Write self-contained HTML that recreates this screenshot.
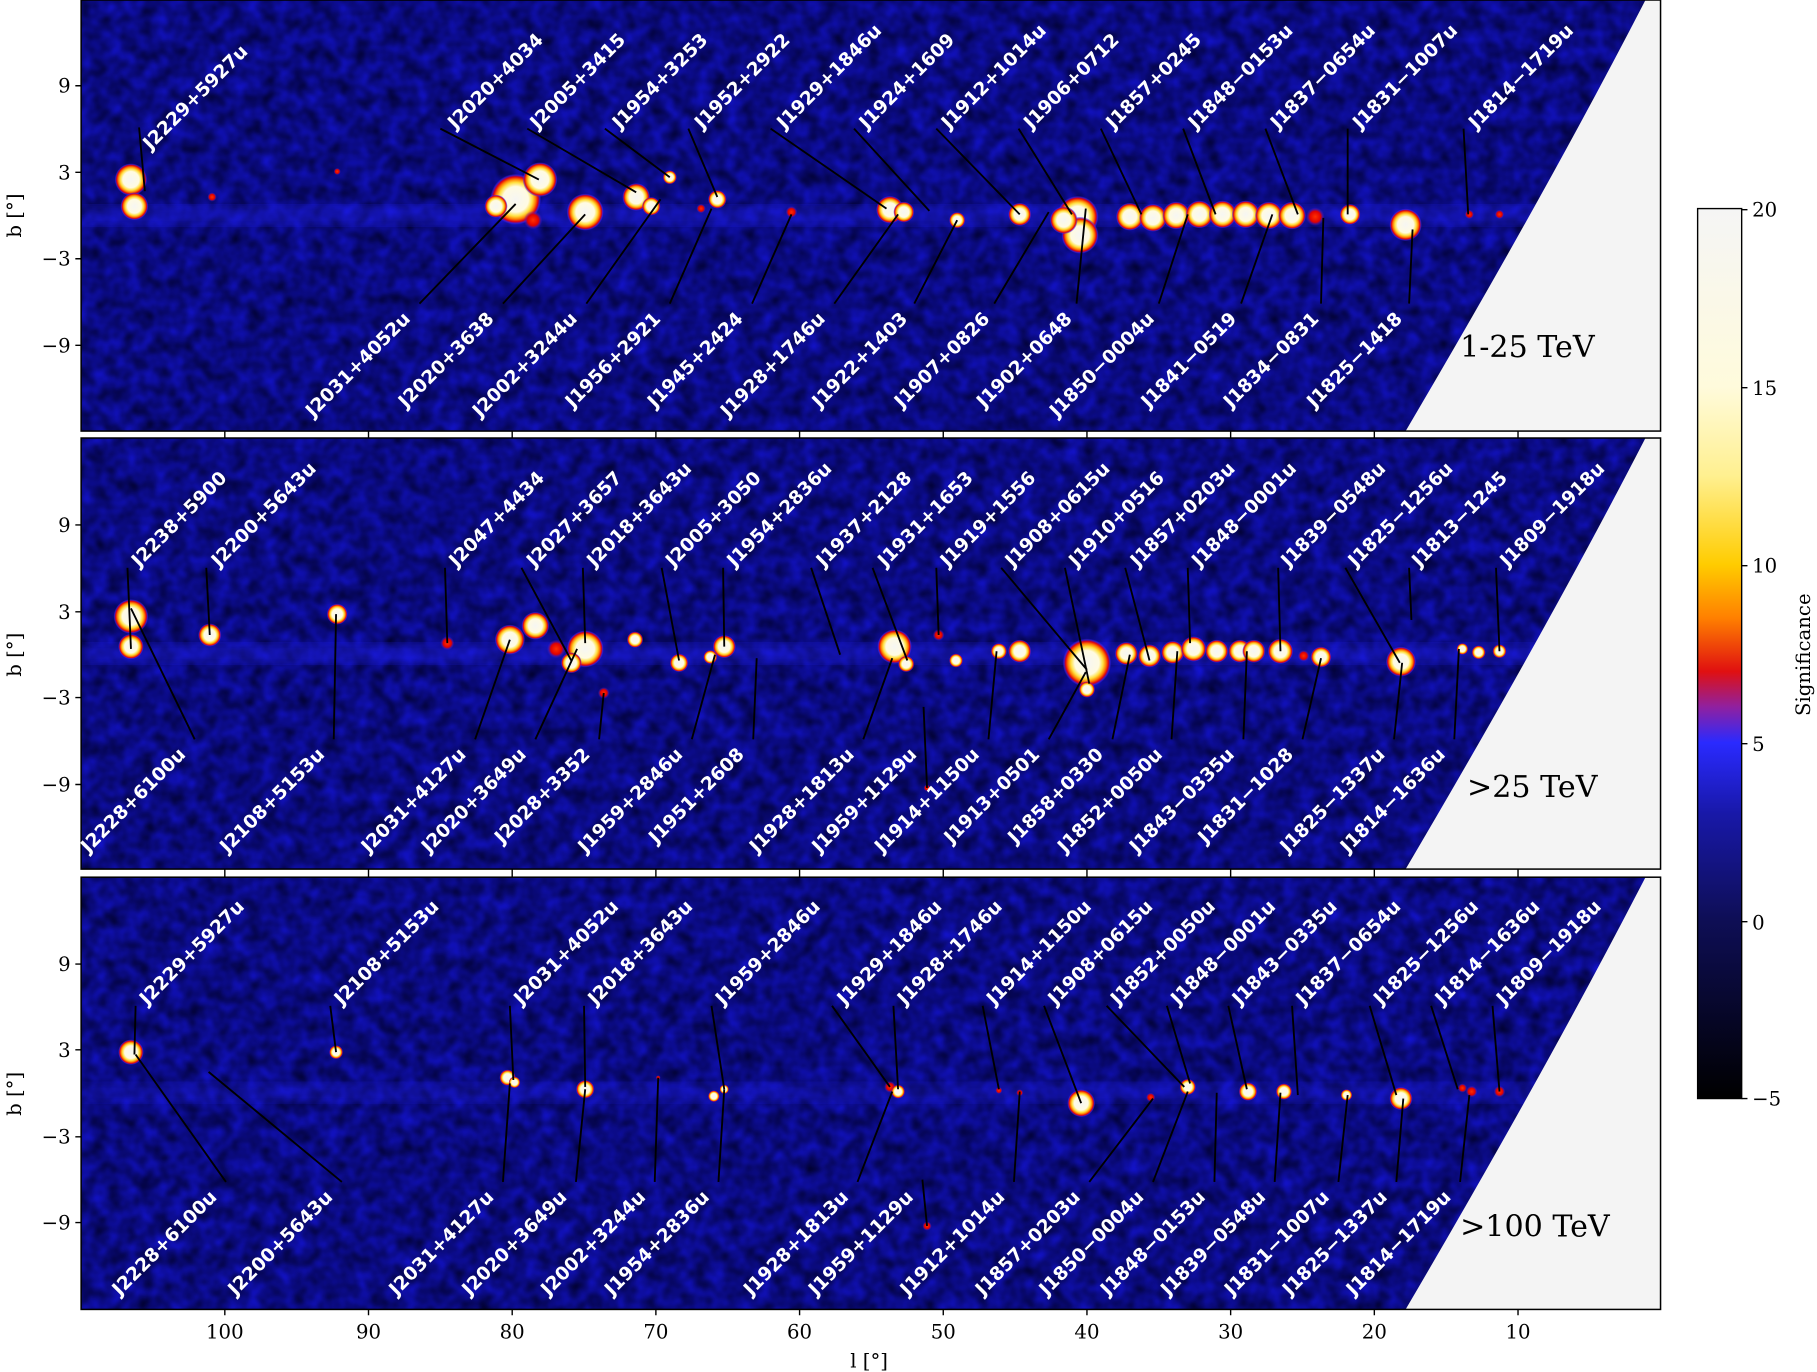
<!DOCTYPE html>
<html><head><meta charset="utf-8"><style>
html,body{margin:0;padding:0;background:#fff}
svg{display:block}
.lb{font-family:"DejaVu Sans","Liberation Sans",sans-serif;font-weight:bold;font-size:16px;fill:#fff}
.tk{font-family:"DejaVu Serif","Liberation Serif",serif;font-size:17px;fill:#000}
.ln{stroke:#000;stroke-width:1.6;fill:none}
.en{font-family:"DejaVu Serif","Liberation Serif",serif;font-size:26px;fill:#000}
</style></head><body>
<svg width="1817" height="1372" viewBox="0 0 1568 1184" xmlns="http://www.w3.org/2000/svg">
<defs>
<filter id="nz" x="0" y="0" width="100%" height="100%" filterUnits="objectBoundingBox" color-interpolation-filters="sRGB">
<feTurbulence type="fractalNoise" baseFrequency="0.075" numOctaves="2" seed="7"/>
<feColorMatrix type="matrix" values="0.08 0 0 0 0.0  0.08 0 0 0 0.0  0.7 0 0 0 0.15  0 0 0 0 1"/>
</filter>
<filter id="bl"><feGaussianBlur stdDeviation="6"/></filter>
<radialGradient id="hot">
<stop offset="0" stop-color="#f6f6f3"/><stop offset="0.5" stop-color="#fffbe2"/>
<stop offset="0.66" stop-color="#ffe040"/><stop offset="0.78" stop-color="#ff8000"/>
<stop offset="0.88" stop-color="#e00010"/><stop offset="0.95" stop-color="#5020e0" stop-opacity="0.6"/>
<stop offset="1" stop-color="#2020ff" stop-opacity="0"/>
</radialGradient>
<radialGradient id="red">
<stop offset="0" stop-color="#ff3000"/><stop offset="0.6" stop-color="#e00000"/>
<stop offset="1" stop-color="#3020ff" stop-opacity="0"/>
</radialGradient>
<linearGradient id="cb" x1="0" y1="1" x2="0" y2="0">
<stop offset="0" stop-color="#000"/><stop offset="0.2" stop-color="#0e0e55"/>
<stop offset="0.32" stop-color="#1818a8"/><stop offset="0.4" stop-color="#2a2aff"/>
<stop offset="0.44" stop-color="#9020a0"/><stop offset="0.48" stop-color="#e01010"/>
<stop offset="0.54" stop-color="#ff8000"/><stop offset="0.6" stop-color="#ffcc00"/>
<stop offset="0.7" stop-color="#fff090"/><stop offset="0.8" stop-color="#fffbdc"/>
<stop offset="1" stop-color="#f5f5f5"/>
</linearGradient>
<clipPath id="c1"><rect x="70" y="0" width="1363" height="372"/></clipPath>
<clipPath id="c2"><rect x="70" y="378" width="1363" height="372"/></clipPath>
<clipPath id="c3"><rect x="70" y="757" width="1363" height="373"/></clipPath>
</defs>

<!-- PANEL 1 -->
<g clip-path="url(#c1)">
<rect x="70" y="0" width="1363" height="372" filter="url(#nz)"/>
<rect x="70" y="178" width="1363" height="16" fill="#2828ff" opacity="0.4" filter="url(#bl)"/>
<g>
<circle cx="113" cy="155" r="14" fill="url(#hot)"/><circle cx="116" cy="178" r="12" fill="url(#hot)"/>
<circle cx="183" cy="170" r="4" fill="url(#red)"/><circle cx="291" cy="148" r="3" fill="url(#red)"/>
<circle cx="445" cy="172" r="22" fill="url(#hot)"/><circle cx="466" cy="155" r="15" fill="url(#hot)"/>
<circle cx="428" cy="178" r="10" fill="url(#hot)"/><circle cx="460" cy="190" r="8" fill="url(#red)"/>
<circle cx="505" cy="183" r="16" fill="url(#hot)"/><circle cx="549" cy="170" r="12" fill="url(#hot)"/>
<circle cx="562" cy="178" r="8" fill="url(#hot)"/><circle cx="578" cy="153" r="6" fill="url(#hot)"/>
<circle cx="619" cy="172" r="8" fill="url(#hot)"/><circle cx="605" cy="180" r="4" fill="url(#red)"/>
<circle cx="683" cy="183" r="5" fill="url(#red)"/>
<circle cx="768" cy="181" r="12" fill="url(#hot)"/><circle cx="780" cy="183" r="9" fill="url(#hot)"/>
<circle cx="826" cy="190" r="7" fill="url(#hot)"/><circle cx="880" cy="185" r="10" fill="url(#hot)"/>
<circle cx="930" cy="187" r="18" fill="url(#hot)"/><circle cx="932" cy="203" r="16" fill="url(#hot)"/>
<circle cx="918" cy="190" r="12" fill="url(#hot)"/>
<circle cx="975" cy="187" r="12" fill="url(#hot)"/><circle cx="995" cy="188" r="12" fill="url(#hot)"/>
<circle cx="1015" cy="186" r="12" fill="url(#hot)"/><circle cx="1035" cy="185" r="12" fill="url(#hot)"/>
<circle cx="1055" cy="185" r="12" fill="url(#hot)"/><circle cx="1075" cy="185" r="12" fill="url(#hot)"/>
<circle cx="1095" cy="186" r="12" fill="url(#hot)"/><circle cx="1115" cy="186" r="12" fill="url(#hot)"/>
<circle cx="1135" cy="187" r="8" fill="url(#red)"/>
<circle cx="1165" cy="185" r="9" fill="url(#hot)"/><circle cx="1213" cy="194" r="14" fill="url(#hot)"/>
<circle cx="1268" cy="185" r="4" fill="url(#red)"/><circle cx="1294" cy="185" r="4" fill="url(#red)"/>
</g>
<path d="M1420,0 Q1335,165 1213,372 L1433,372 L1433,0 Z" fill="#f4f4f4"/>
</g>
<rect x="70" y="0" width="1363" height="372" fill="none" stroke="#000" stroke-width="1.3"/>

<!-- PANEL 2 -->
<g clip-path="url(#c2)">
<rect x="70" y="378" width="1363" height="372" filter="url(#nz)"/>
<rect x="70" y="556" width="1363" height="16" fill="#2828ff" opacity="0.4" filter="url(#bl)"/>
<circle cx="113" cy="532" r="15" fill="url(#hot)"/><circle cx="113" cy="558" r="11" fill="url(#hot)"/>
<circle cx="181" cy="548" r="10" fill="url(#hot)"/><circle cx="291" cy="530" r="9" fill="url(#hot)"/>
<circle cx="386" cy="555" r="6" fill="url(#red)"/>
<circle cx="440" cy="552" r="13" fill="url(#hot)"/><circle cx="462" cy="540" r="12" fill="url(#hot)"/>
<circle cx="480" cy="560" r="8" fill="url(#red)"/>
<circle cx="505" cy="560" r="16" fill="url(#hot)"/><circle cx="493" cy="572" r="9" fill="url(#hot)"/>
<circle cx="521" cy="598" r="5" fill="url(#red)"/>
<circle cx="548" cy="552" r="7" fill="url(#hot)"/><circle cx="586" cy="572" r="8" fill="url(#hot)"/>
<circle cx="625" cy="558" r="10" fill="url(#hot)"/><circle cx="613" cy="567" r="6" fill="url(#hot)"/>
<circle cx="772" cy="558" r="15" fill="url(#hot)"/><circle cx="782" cy="573" r="7" fill="url(#hot)"/>
<circle cx="825" cy="570" r="6" fill="url(#hot)"/><circle cx="810" cy="548" r="5" fill="url(#red)"/>
<circle cx="862" cy="562" r="7" fill="url(#hot)"/><circle cx="880" cy="562" r="10" fill="url(#hot)"/>
<circle cx="938" cy="572" r="21" fill="url(#hot)"/><circle cx="938" cy="595" r="7" fill="url(#hot)"/>
<circle cx="972" cy="564" r="10" fill="url(#hot)"/><circle cx="992" cy="566" r="10" fill="url(#hot)"/>
<circle cx="1012" cy="563" r="10" fill="url(#hot)"/><circle cx="1030" cy="560" r="11" fill="url(#hot)"/>
<circle cx="1050" cy="562" r="10" fill="url(#hot)"/><circle cx="1070" cy="562" r="10" fill="url(#hot)"/>
<circle cx="1082" cy="562" r="10" fill="url(#hot)"/>
<circle cx="1105" cy="562" r="11" fill="url(#hot)"/><circle cx="1140" cy="567" r="9" fill="url(#hot)"/>
<circle cx="1125" cy="566" r="5" fill="url(#red)"/>
<circle cx="1209" cy="571" r="13" fill="url(#hot)"/><circle cx="1262" cy="560" r="5" fill="url(#hot)"/>
<circle cx="1276" cy="563" r="6" fill="url(#hot)"/><circle cx="1294" cy="562" r="6" fill="url(#hot)"/>
<circle cx="800" cy="680" r="3" fill="url(#red)"/>
<path d="M1420,378 Q1335,543 1213,750 L1433,750 L1433,378 Z" fill="#f4f4f4"/>
</g>
<rect x="70" y="378" width="1363" height="372" fill="none" stroke="#000" stroke-width="1.3"/>

<!-- PANEL 3 -->
<g clip-path="url(#c3)">
<rect x="70" y="757" width="1363" height="373" filter="url(#nz)"/>
<rect x="70" y="935" width="1363" height="16" fill="#2828ff" opacity="0.3" filter="url(#bl)"/>
<circle cx="113" cy="908" r="11" fill="url(#hot)"/><circle cx="290" cy="908" r="6" fill="url(#hot)"/>
<circle cx="438" cy="930" r="7" fill="url(#hot)"/><circle cx="444" cy="934" r="5" fill="url(#hot)"/>
<circle cx="505" cy="940" r="8" fill="url(#hot)"/><circle cx="616" cy="946" r="5" fill="url(#hot)"/>
<circle cx="625" cy="940" r="4" fill="url(#hot)"/><circle cx="768" cy="938" r="5" fill="url(#red)"/>
<circle cx="775" cy="942" r="6" fill="url(#hot)"/><circle cx="862" cy="941" r="3" fill="url(#red)"/>
<circle cx="880" cy="943" r="3" fill="url(#red)"/><circle cx="933" cy="952" r="12" fill="url(#hot)"/>
<circle cx="993" cy="947" r="4" fill="url(#red)"/><circle cx="1025" cy="938" r="7" fill="url(#hot)"/>
<circle cx="1077" cy="942" r="8" fill="url(#hot)"/><circle cx="1108" cy="942" r="7" fill="url(#hot)"/>
<circle cx="1162" cy="945" r="5" fill="url(#hot)"/><circle cx="1209" cy="948" r="10" fill="url(#hot)"/>
<circle cx="1262" cy="939" r="4" fill="url(#red)"/><circle cx="1270" cy="942" r="5" fill="url(#red)"/>
<circle cx="1294" cy="942" r="5" fill="url(#red)"/><circle cx="800" cy="1058" r="4" fill="url(#red)"/>
<circle cx="568" cy="930" r="2" fill="url(#red)"/>
<path d="M1420,757 Q1335,922 1213,1130 L1433,1130 L1433,757 Z" fill="#f4f4f4"/>
</g>
<rect x="70" y="757" width="1363" height="373" fill="none" stroke="#000" stroke-width="1.3"/>

<!-- leader lines -->
<g class="ln">
<path d="M120,110L125,165M380,111L465,155M455,111L549,166M522,111L578,153M594,111L619,170M665,111L765,180M737,111L802,182M808,111L880,185M879,111L925,185M950,111L985,185M1021,111L1049,185M1092,111L1120,185M1163,111L1163,185M1263,111L1267,185"/>
<path d="M445,176L362,262M505,185L434,262M570,172L506,262M614,180L578,262M683,185L649,262M775,185L720,262M826,190L789,262M905,183L858,262M937,180L929,262M1025,185L1000,262M1098,185L1071,262M1142,188L1140,262M1219,198L1216,262"/>
<path d="M110,490L113,560M178,490L181,548M384,490L386,555M450,490L493,570M503,490L505,555M571,490L586,570M624,490L625,558M700,490L725,565M753,490L783,570M808,490L810,548M864,490L938,578M919,490L940,590M971,490L992,570M1025,490L1027,555M1103,490L1105,562M1161,490L1208,572M1216,490L1218,535M1291,490L1294,562"/>
<path d="M113,525L168,638M290,530L288,638M440,552L410,638M498,560L462,638M521,598L517,638M617,565L597,638M653,568L650,638M770,568L745,638M797,610L800,680M860,562L853,638M937,580L905,638M975,565L960,638M1016,562L1011,638M1076,562L1073,638M1140,568L1124,638M1210,572L1203,638M1259,560L1255,638"/>
<path d="M117,868L116,910M285,868L290,908M440,868L443,932M504,868L505,938M614,868L625,940M718,868L768,938M771,868L775,940M848,868L862,940M901,868L933,952M955,868L1022,938M1007,868L1027,935M1060,868L1076,940M1115,868L1120,945M1182,868L1205,945M1235,868L1258,940M1288,868L1294,942"/>
<path d="M117,910L195,1020M180,925L295,1020M440,935L434,1020M505,940L497,1020M568,930L565,1020M625,940L620,1020M770,942L740,1020M796,1018L800,1058M880,942L875,1020M995,948L940,1020M1025,942L995,1020M1050,943L1048,1020M1105,943L1100,1020M1163,945L1155,1020M1211,948L1205,1020M1268,945L1260,1020"/>
</g>

<!-- labels panel 1 upper -->
<g class="lb">
<text transform="translate(130,130) rotate(-45)">J2229+5927u</text>
<text transform="translate(393,112) rotate(-45)">J2020+4034</text>
<text transform="translate(464,112) rotate(-45)">J2005+3415</text>
<text transform="translate(535,112) rotate(-45)">J1954+3253</text>
<text transform="translate(606,112) rotate(-45)">J1952+2922</text>
<text transform="translate(677,112) rotate(-45)">J1929+1846u</text>
<text transform="translate(748,112) rotate(-45)">J1924+1609</text>
<text transform="translate(819,112) rotate(-45)">J1912+1014u</text>
<text transform="translate(890,112) rotate(-45)">J1906+0712</text>
<text transform="translate(961,112) rotate(-45)">J1857+0245</text>
<text transform="translate(1032,112) rotate(-45)">J1848−0153u</text>
<text transform="translate(1103,112) rotate(-45)">J1837−0654u</text>
<text transform="translate(1174,112) rotate(-45)">J1831−1007u</text>
<text transform="translate(1274,112) rotate(-45)">J1814−1719u</text>
</g>
<g class="lb" text-anchor="end">
<text transform="translate(355,276) rotate(-45)">J2031+4052u</text>
<text transform="translate(427,276) rotate(-45)">J2020+3638</text>
<text transform="translate(499,276) rotate(-45)">J2002+3244u</text>
<text transform="translate(571,276) rotate(-45)">J1956+2921</text>
<text transform="translate(642,276) rotate(-45)">J1945+2424</text>
<text transform="translate(713,276) rotate(-45)">J1928+1746u</text>
<text transform="translate(784,276) rotate(-45)">J1922+1403</text>
<text transform="translate(855,276) rotate(-45)">J1907+0826</text>
<text transform="translate(926,276) rotate(-45)">J1902+0648</text>
<text transform="translate(997,276) rotate(-45)">J1850−0004u</text>
<text transform="translate(1068,276) rotate(-45)">J1841−0519</text>
<text transform="translate(1139,276) rotate(-45)">J1834−0831</text>
<text transform="translate(1211,276) rotate(-45)">J1825−1418</text>
</g>

<!-- labels panel 2 -->
<g class="lb">
<text transform="translate(120,490) rotate(-45)">J2238+5900</text>
<text transform="translate(189,490) rotate(-45)">J2200+5643u</text>
<text transform="translate(394,490) rotate(-45)">J2047+4434</text>
<text transform="translate(461,490) rotate(-45)">J2027+3657</text>
<text transform="translate(513,490) rotate(-45)">J2018+3643u</text>
<text transform="translate(581,490) rotate(-45)">J2005+3050</text>
<text transform="translate(634,490) rotate(-45)">J1954+2836u</text>
<text transform="translate(711,490) rotate(-45)">J1937+2128</text>
<text transform="translate(764,490) rotate(-45)">J1931+1653</text>
<text transform="translate(818,490) rotate(-45)">J1919+1556</text>
<text transform="translate(874,490) rotate(-45)">J1908+0615u</text>
<text transform="translate(929,490) rotate(-45)">J1910+0516</text>
<text transform="translate(982,490) rotate(-45)">J1857+0203u</text>
<text transform="translate(1035,490) rotate(-45)">J1848−0001u</text>
<text transform="translate(1112,490) rotate(-45)">J1839−0548u</text>
<text transform="translate(1170,490) rotate(-45)">J1825−1256u</text>
<text transform="translate(1225,490) rotate(-45)">J1813−1245</text>
<text transform="translate(1301,490) rotate(-45)">J1809−1918u</text>
</g>
<g class="lb" text-anchor="end">
<text transform="translate(161,652) rotate(-45)">J2228+6100u</text>
<text transform="translate(281,652) rotate(-45)">J2108+5153u</text>
<text transform="translate(403,652) rotate(-45)">J2031+4127u</text>
<text transform="translate(455,652) rotate(-45)">J2020+3649u</text>
<text transform="translate(510,652) rotate(-45)">J2028+3352</text>
<text transform="translate(590,652) rotate(-45)">J1959+2846u</text>
<text transform="translate(643,652) rotate(-45)">J1951+2608</text>
<text transform="translate(738,652) rotate(-45)">J1928+1813u</text>
<text transform="translate(792,652) rotate(-45)">J1959+1129u</text>
<text transform="translate(846,652) rotate(-45)">J1914+1150u</text>
<text transform="translate(898,652) rotate(-45)">J1913+0501</text>
<text transform="translate(953,652) rotate(-45)">J1858+0330</text>
<text transform="translate(1004,652) rotate(-45)">J1852+0050u</text>
<text transform="translate(1066,652) rotate(-45)">J1843−0335u</text>
<text transform="translate(1117,652) rotate(-45)">J1831−1028</text>
<text transform="translate(1196,652) rotate(-45)">J1825−1337u</text>
<text transform="translate(1248,652) rotate(-45)">J1814−1636u</text>
</g>

<!-- labels panel 3 -->
<g class="lb">
<text transform="translate(127,868) rotate(-45)">J2229+5927u</text>
<text transform="translate(295,868) rotate(-45)">J2108+5153u</text>
<text transform="translate(450,868) rotate(-45)">J2031+4052u</text>
<text transform="translate(514,868) rotate(-45)">J2018+3643u</text>
<text transform="translate(624,868) rotate(-45)">J1959+2846u</text>
<text transform="translate(729,868) rotate(-45)">J1929+1846u</text>
<text transform="translate(781,868) rotate(-45)">J1928+1746u</text>
<text transform="translate(858,868) rotate(-45)">J1914+1150u</text>
<text transform="translate(911,868) rotate(-45)">J1908+0615u</text>
<text transform="translate(965,868) rotate(-45)">J1852+0050u</text>
<text transform="translate(1017,868) rotate(-45)">J1848−0001u</text>
<text transform="translate(1070,868) rotate(-45)">J1843−0335u</text>
<text transform="translate(1125,868) rotate(-45)">J1837−0654u</text>
<text transform="translate(1192,868) rotate(-45)">J1825−1256u</text>
<text transform="translate(1245,868) rotate(-45)">J1814−1636u</text>
<text transform="translate(1298,868) rotate(-45)">J1809−1918u</text>
</g>
<g class="lb" text-anchor="end">
<text transform="translate(188,1034) rotate(-45)">J2228+6100u</text>
<text transform="translate(288,1034) rotate(-45)">J2200+5643u</text>
<text transform="translate(427,1034) rotate(-45)">J2031+4127u</text>
<text transform="translate(490,1034) rotate(-45)">J2020+3649u</text>
<text transform="translate(558,1034) rotate(-45)">J2002+3244u</text>
<text transform="translate(613,1034) rotate(-45)">J1954+2836u</text>
<text transform="translate(733,1034) rotate(-45)">J1928+1813u</text>
<text transform="translate(789,1034) rotate(-45)">J1959+1129u</text>
<text transform="translate(868,1034) rotate(-45)">J1912+1014u</text>
<text transform="translate(933,1034) rotate(-45)">J1857+0203u</text>
<text transform="translate(988,1034) rotate(-45)">J1850−0004u</text>
<text transform="translate(1041,1034) rotate(-45)">J1848−0153u</text>
<text transform="translate(1093,1034) rotate(-45)">J1839−0548u</text>
<text transform="translate(1148,1034) rotate(-45)">J1831−1007u</text>
<text transform="translate(1198,1034) rotate(-45)">J1825−1337u</text>
<text transform="translate(1253,1034) rotate(-45)">J1814−1719u</text>
</g>

<!-- energy labels -->
<text class="en" x="1260" y="308">1-25 TeV</text>
<text class="en" x="1266" y="688">&gt;25 TeV</text>
<text class="en" x="1260" y="1067">&gt;100 TeV</text>

<!-- ticks -->
<g stroke="#000" stroke-width="1.2">
<path d="M65,74H70M65,148.7H70M65,223.3H70M65,298H70"/>
<path d="M65,453H70M65,528H70M65,602H70M65,677H70"/>
<path d="M65,832H70M65,906H70M65,981H70M65,1055H70"/>
<path d="M194,1130v5M318,1130v5M442,1130v5M566,1130v5M690,1130v5M814,1130v5M938,1130v5M1062,1130v5M1186,1130v5M1310,1130v5"/>
<path d="M194,372v6M318,372v6M442,372v6M566,372v6M690,372v6M814,372v6M938,372v6M1062,372v6M1186,372v6M1310,372v6"/>
<path d="M194,750v7M318,750v7M442,750v7M566,750v7M690,750v7M814,750v7M938,750v7M1062,750v7M1186,750v7M1310,750v7"/>
</g>
<g class="tk" text-anchor="end">
<text x="61" y="80">9</text><text x="61" y="155">3</text><text x="61" y="229">−3</text><text x="61" y="304">−9</text>
<text x="61" y="459">9</text><text x="61" y="534">3</text><text x="61" y="608">−3</text><text x="61" y="683">−9</text>
<text x="61" y="838">9</text><text x="61" y="912">3</text><text x="61" y="987">−3</text><text x="61" y="1061">−9</text>
</g>
<g class="tk" text-anchor="middle">
<text x="194" y="1155">100</text><text x="318" y="1155">90</text><text x="442" y="1155">80</text>
<text x="566" y="1155">70</text><text x="690" y="1155">60</text><text x="814" y="1155">50</text>
<text x="938" y="1155">40</text><text x="1062" y="1155">30</text><text x="1186" y="1155">20</text>
<text x="1310" y="1155">10</text>
<text x="750" y="1180">l [°]</text>
<text transform="translate(18,186) rotate(-90)">b [°]</text>
<text transform="translate(18,565) rotate(-90)">b [°]</text>
<text transform="translate(18,944) rotate(-90)">b [°]</text>
</g>

<!-- colorbar -->
<rect x="1465" y="180" width="38" height="768" fill="url(#cb)" stroke="#000" stroke-width="1.2"/>
<g stroke="#000" stroke-width="1.2"><path d="M1503,181h5M1503,334.6h5M1503,488.2h5M1503,641.8h5M1503,795.4h5M1503,948h5"/></g>
<g class="tk">
<text x="1512" y="187">20</text><text x="1512" y="341">15</text><text x="1512" y="494">10</text>
<text x="1512" y="648">5</text><text x="1512" y="802">0</text><text x="1512" y="954">−5</text>
<text transform="translate(1562,565) rotate(-90)" text-anchor="middle">Significance</text>
</g>
</svg>
</body></html>
